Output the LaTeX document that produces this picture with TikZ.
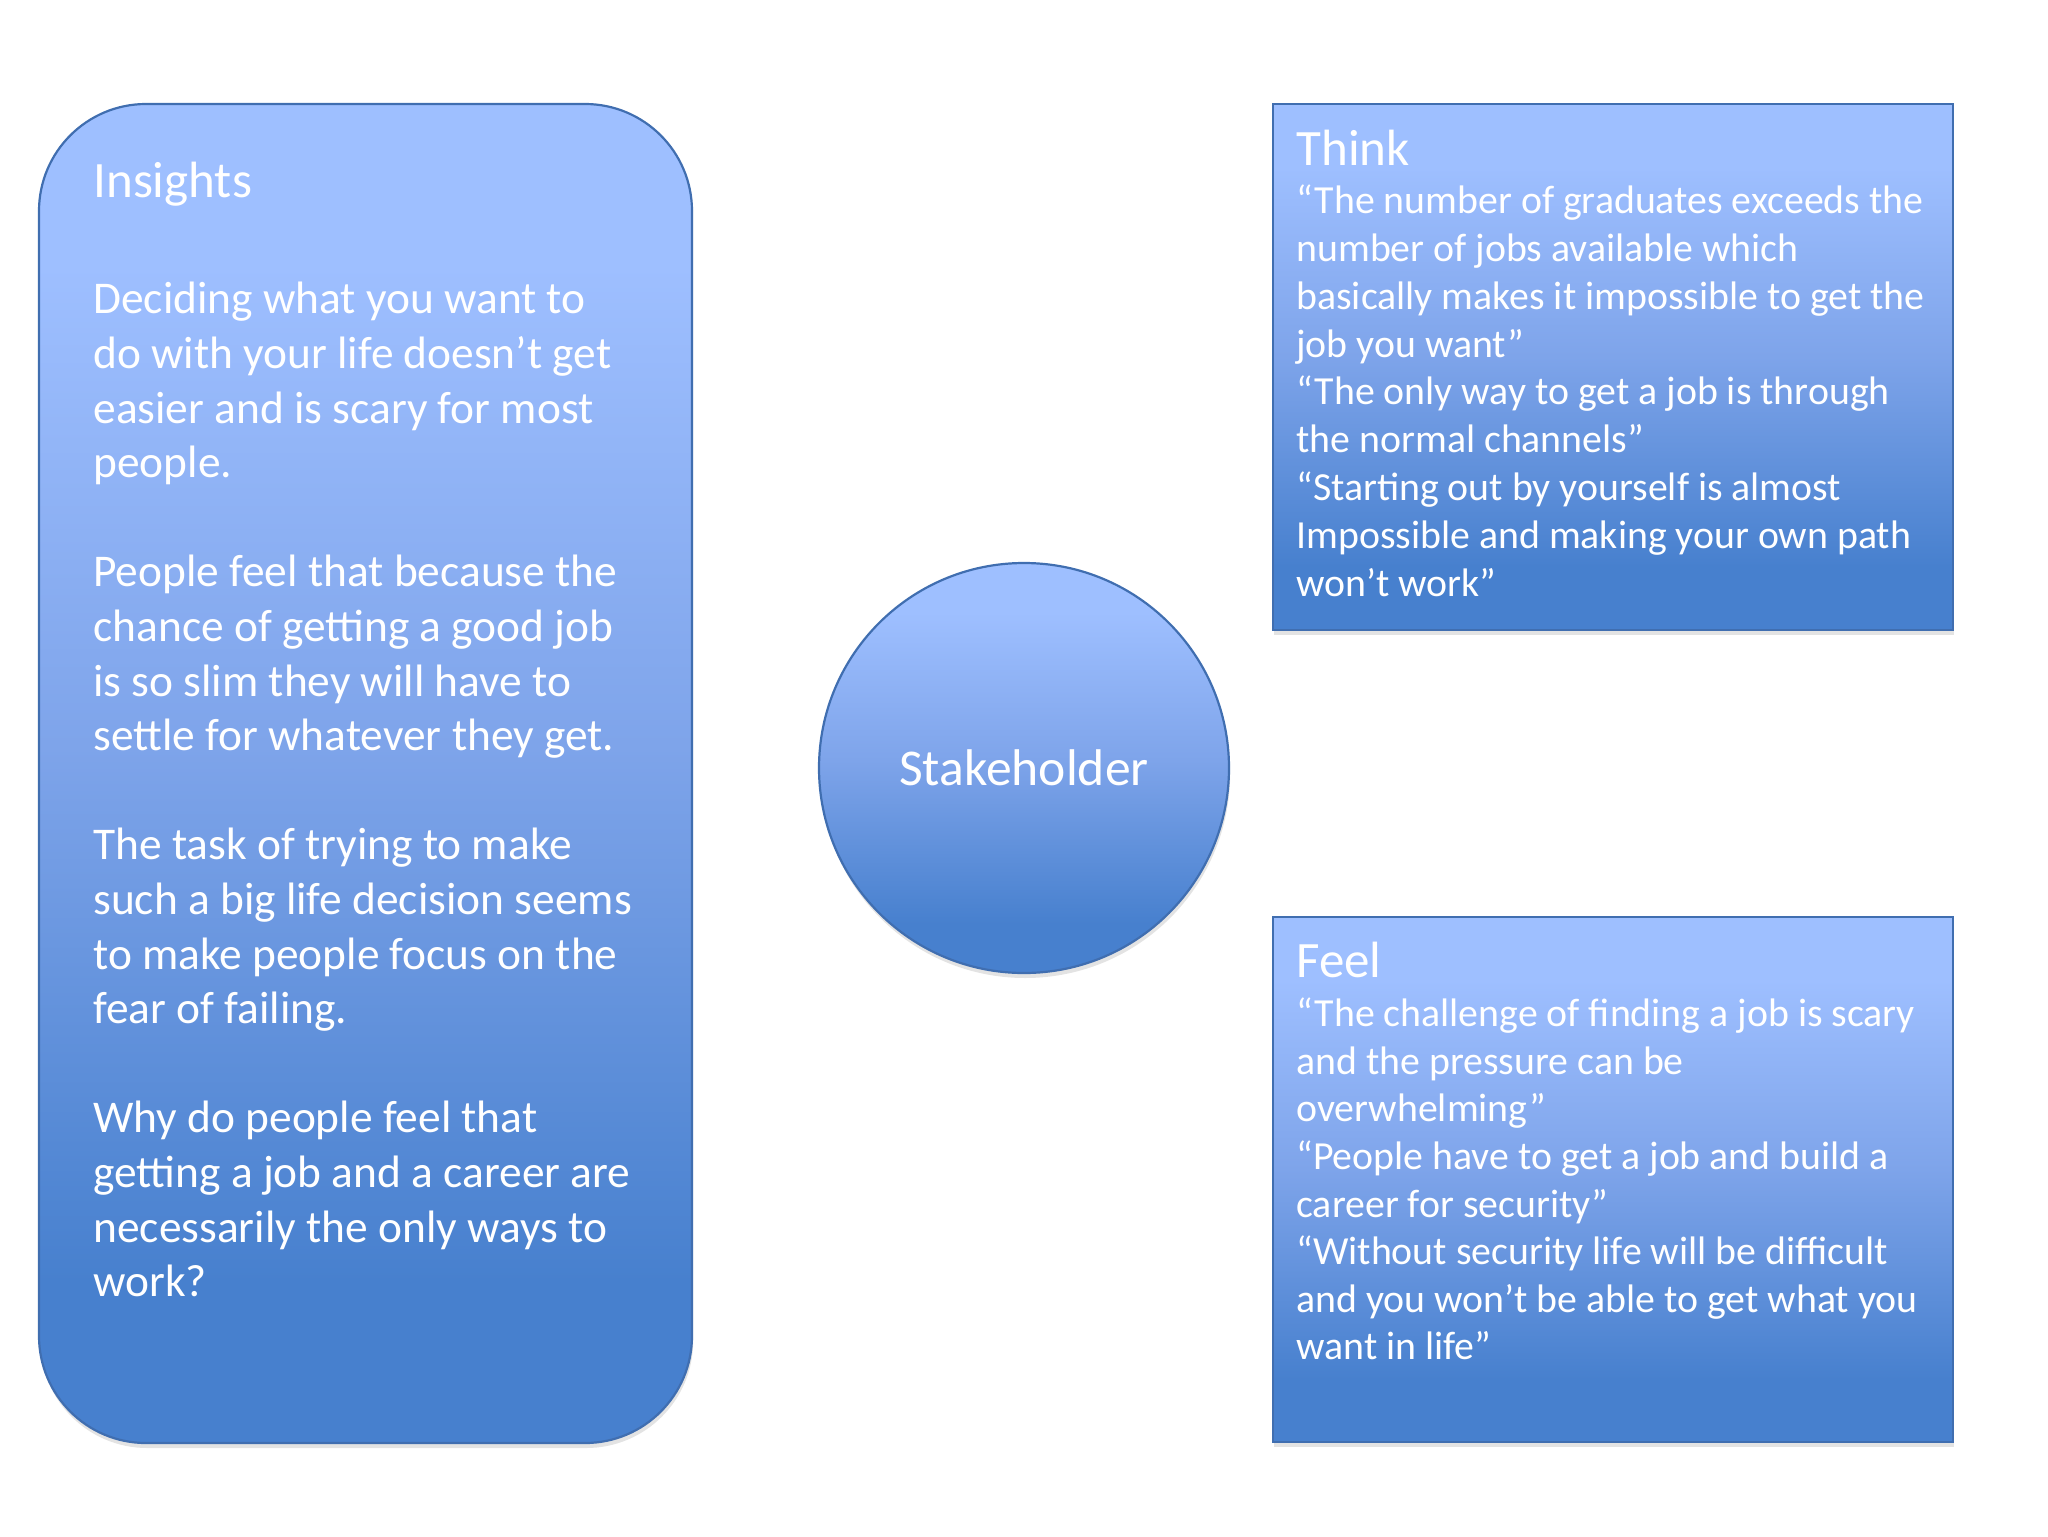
\documentclass[tikz,border=0pt]{standalone}
\usepackage{fontspec}
\setmainfont{Carlito}
\usepackage{xcolor}
\usetikzlibrary{shadows}

\definecolor{boxtop}{RGB}{158,191,255}
\definecolor{boxmid}{RGB}{126,164,234}
\definecolor{boxbot}{RGB}{71,128,206}
\definecolor{boxline}{RGB}{64,110,176}
\pgfdeclareverticalshading{boxfade}{100bp}{color(0bp)=(boxbot); color(25bp)=(boxbot); color(31bp)=(boxbot); color(51bp)=(boxmid); color(69bp)=(boxtop); color(75bp)=(boxtop); color(100bp)=(boxtop)}

\tikzset{
  card/.style={draw=boxline, line width=1.1pt, shading=boxfade,
    drop shadow={shadow xshift=0.6pt, shadow yshift=-2.5pt, opacity=0.22}},
  title/.style={anchor=base west, inner sep=0pt, text=white, font=\fontsize{25.5}{30}\selectfont},
  body/.style={anchor=north west, inner sep=0pt, align=left, text=white},
}

\begin{document}
\begin{tikzpicture}[x=0.5pt,y=0.5pt,yscale=-1,xscale=1]
\useasboundingbox (0,0) rectangle (2048,1536);
\draw [card, rounded corners=53.5pt] (39,104) rectangle (692,1443);
\draw [card] (1273,104) rectangle (1953,630);
\draw [card] (1273,917) rectangle (1953,1442);
\node [card, circle, minimum size=205pt, inner sep=0pt, text=white, font=\fontsize{25.8}{30}\selectfont] (stake) at (1024,768) {Stakeholder};
% insights
\draw (93,197) node [title] (insTitle) {Insights};
\draw (93,282) node [body, font=\fontsize{22.7}{27.3}\selectfont] (insText) {Deciding what you want to\\
do with your life doesn’t get\\
easier and is scary for most\\
people.\\[27.3pt]
People feel that because the\\
chance of getting a good job\\
is so slim they will have to\\
settle for whatever they get.\\[27.3pt]
The task of trying to make\\
such a big life decision seems\\
to make people focus on the\\
fear of failing.\\[27.3pt]
Why do people feel that\\
getting a job and a career are\\
necessarily the only ways to\\
work?};
% think
\draw (1296,165) node [title] (thinkTitle) {Think};
\draw (1296,184.5) node [body, font=\fontsize{19.9}{23.9}\selectfont] (thinkText) {“The number of graduates exceeds the\\
number of jobs available which\\
basically makes it impossible to get the\\
job you want”\\
“The only way to get a job is through\\
the normal channels”\\
“Starting out by yourself is almost\\
Impossible and making your own path\\
won’t work”};
% feel
\draw (1296,977) node [title] (feelTitle) {Feel};
\draw (1296,997.5) node [body, font=\fontsize{19.9}{23.8}\selectfont] (feelText) {“The challenge of finding a job is scary\\
and the pressure can be\\
overwhelming”\\
“People have to get a job and build a\\
career for security”\\
“Without security life will be difficult\\
and you won’t be able to get what you\\
want in life”};
\end{tikzpicture}
\end{document}
